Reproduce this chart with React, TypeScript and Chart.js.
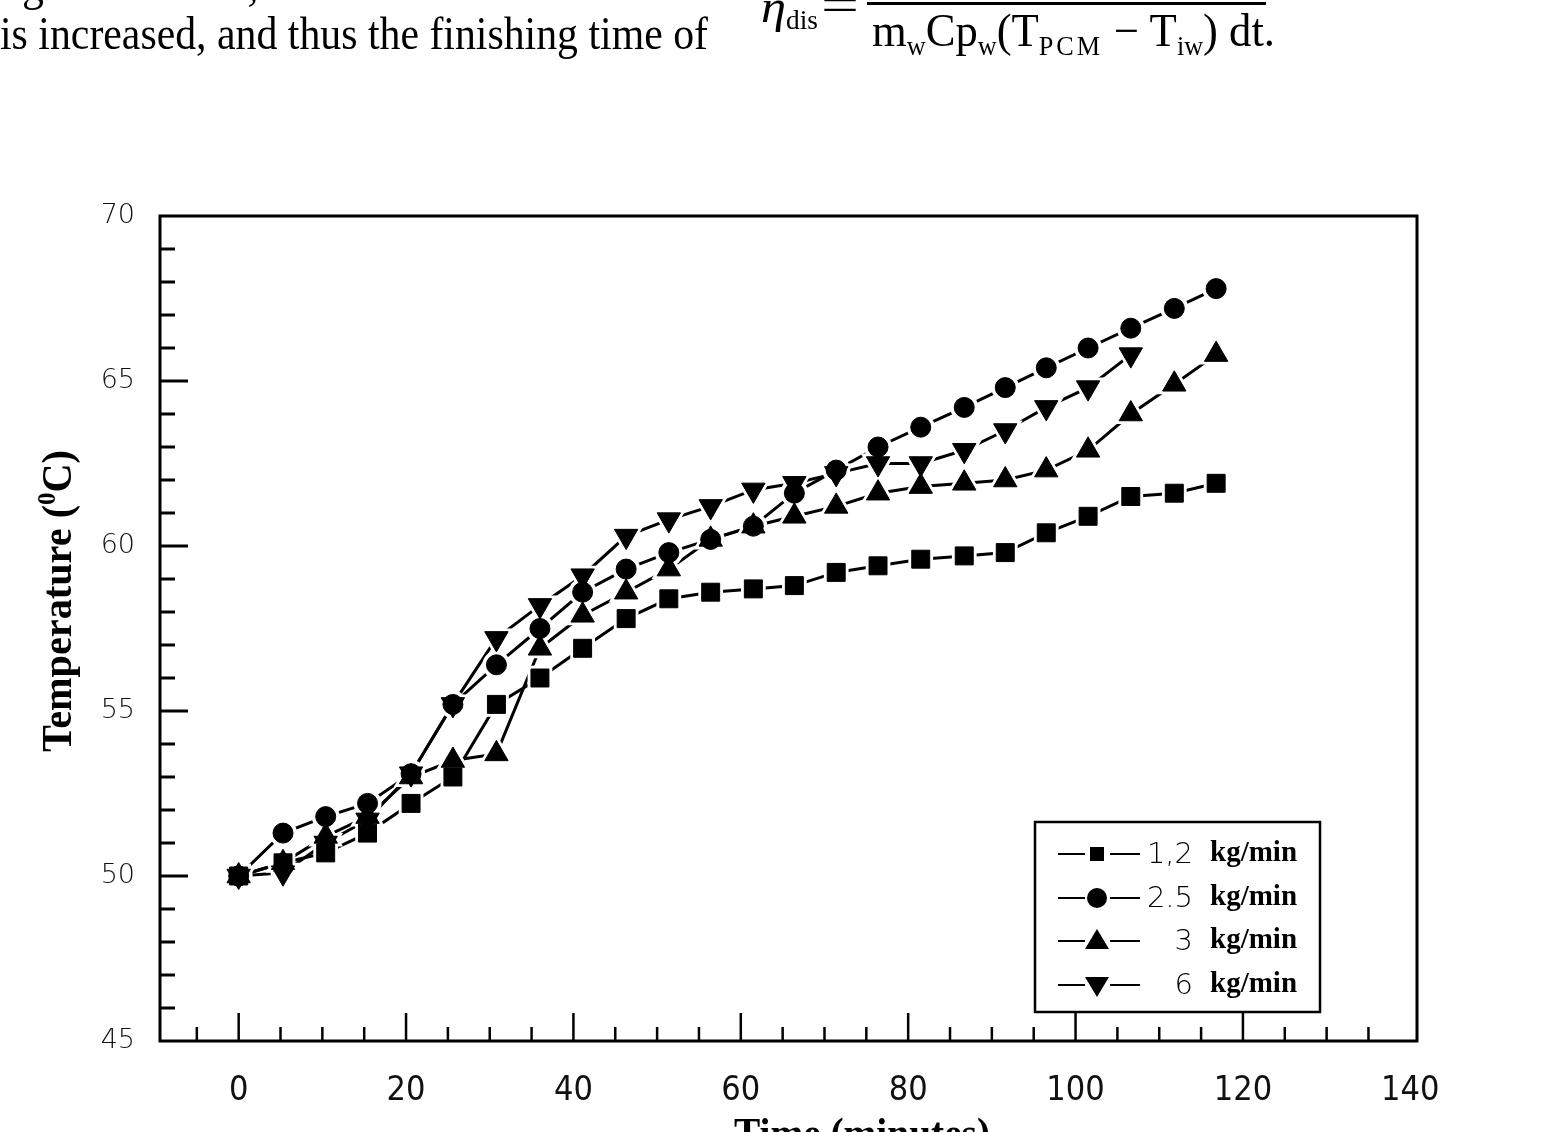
import React, { useEffect, useLayoutEffect, useRef } from 'react';
import { Chart, registerables } from 'chart.js';

Chart.register(...registerables);

// ---------- data ----------
const seriesNames = ['1,2', '2.5', '3', '6'];
const unitLabel = 'kg/min';
const timeMinutes = [0, 5.3, 10.4, 15.4, 20.6, 25.6, 30.8, 36.0, 41.1, 46.3, 51.4, 56.4, 61.5, 66.4, 71.4, 76.4, 81.5, 86.7, 91.6, 96.5, 101.5, 106.6, 111.8, 116.8];
const temp12 = [50.0, 50.4, 50.7, 51.3, 52.2, 53.0, 55.2, 56.0, 56.9, 57.8, 58.4, 58.6, 58.7, 58.8, 59.2, 59.4, 59.6, 59.7, 59.8, 60.4, 60.9, 61.5, 61.6, 61.9];
const temp25 = [50.0, 51.3, 51.8, 52.2, 53.1, 55.2, 56.4, 57.5, 58.6, 59.3, 59.8, 60.2, 60.6, 61.6, 62.3, 63.0, 63.6, 64.2, 64.8, 65.4, 66.0, 66.6, 67.2, 67.8];
const temp3 = [50.0, 50.4, 51.2, 51.8, 53.0, 53.5, 53.7, 56.9, 57.9, 58.6, 59.3, 60.2, 60.6, 60.9, 61.2, 61.6, 61.8, 61.9, 62.0, 62.3, 62.9, 64.0, 64.9, 65.8];
const temp6 = [50.0, 50.1, 51.0, 51.7, 53.1, 55.2, 57.2, 58.2, 59.1, 60.3, 60.8, 61.2, 61.7, 61.9, 62.2, 62.5, 62.5, 62.9, 63.5, 64.2, 64.8, 65.8];
const xTickValues = [0, 20, 40, 60, 80, 100, 120, 140];
const yTickValues = [45, 50, 55, 60, 65, 70];
const xTitle = 'Time (minutes)';
const yTitleMain = 'Temperature (';
const yTitleSup = '0';
const yTitleEnd = 'C)';

const allSeries = [temp12, temp25, temp3, temp6];
const markerStyles: { style: string; rotation: number; radius: number; halo: number }[] = [
  { style: 'rect', rotation: 0, radius: 12.7, halo: 17.5 },
  { style: 'circle', rotation: 0, radius: 10, halo: 14 },
  { style: 'triangle', rotation: 0, radius: 13.5, halo: 20 },
  { style: 'triangle', rotation: 180, radius: 13.5, halo: 20 },
];

function drawMarker(ctx: CanvasRenderingContext2D, kind: number, cx: number, cy: number) {
  ctx.beginPath();
  if (kind === 0) {
    ctx.rect(cx - 7, cy - 7, 14, 14);
  } else if (kind === 1) {
    ctx.arc(cx, cy, 10, 0, Math.PI * 2);
  } else if (kind === 2) {
    ctx.moveTo(cx, cy - 12);
    ctx.lineTo(cx + 12, cy + 8);
    ctx.lineTo(cx - 12, cy + 8);
    ctx.closePath();
  } else {
    ctx.moveTo(cx, cy + 12);
    ctx.lineTo(cx + 12, cy - 8);
    ctx.lineTo(cx - 12, cy - 8);
    ctx.closePath();
  }
  ctx.fill();
}

const framePlugin = {
  id: 'frameTicks',
  afterDatasetsDraw(chart: any) {
    const { ctx, chartArea: a, scales } = chart;
    const x = scales.x;
    const y = scales.y;
    ctx.save();
    ctx.strokeStyle = '#000';
    ctx.lineWidth = 3;
    ctx.strokeRect(a.left, a.top, a.right - a.left, a.bottom - a.top);
    for (let v = Math.ceil(y.min) + 1; v < y.max; v += 1) {
      const py = y.getPixelForValue(v);
      const len = v % 5 === 0 ? 28 : 15;
      ctx.beginPath();
      ctx.moveTo(a.left, py);
      ctx.lineTo(a.left + len, py);
      ctx.stroke();
    }
    ctx.lineWidth = 2.5;
    for (let v = -5; v < x.max - 1; v += 5) {
      const px = x.getPixelForValue(v);
      const len = v % 20 === 0 ? 28 : 14;
      ctx.beginPath();
      ctx.moveTo(px, a.bottom);
      ctx.lineTo(px, a.bottom - len);
      ctx.stroke();
    }
    ctx.restore();
  },
};

const titlesPlugin = {
  id: 'axisTitles',
  afterDraw(chart: any) {
    const { ctx } = chart;
    ctx.save();
    ctx.fillStyle = '#000';
    ctx.font = 'bold 42px "Liberation Serif"';
    ctx.textAlign = 'left';
    ctx.textBaseline = 'alphabetic';
    const xw = ctx.measureText(xTitle).width;
    const xs = 256 / xw;
    ctx.save();
    ctx.translate(862 - 128, 1147);
    ctx.scale(xs, 1);
    ctx.fillText(xTitle, 0, 0);
    ctx.restore();
    const big = 'bold 42px "Liberation Serif"';
    const small = 'bold 26px "Liberation Serif"';
    ctx.font = big;
    const w1 = ctx.measureText(yTitleMain).width;
    const w3 = ctx.measureText(yTitleEnd).width;
    ctx.font = small;
    const w2 = ctx.measureText(yTitleSup).width;
    const total = w1 + w2 + w3;
    const ys = 302 / total;
    ctx.save();
    ctx.translate(71, 752);
    ctx.rotate(-Math.PI / 2);
    ctx.scale(ys, 1);
    ctx.font = big;
    ctx.fillText(yTitleMain, 0, 0);
    ctx.font = small;
    ctx.fillText(yTitleSup, w1, -16);
    ctx.font = big;
    ctx.fillText(yTitleEnd, w1 + w2, 0);
    ctx.restore();
    ctx.restore();
  },
};

const legendPlugin = {
  id: 'boxLegend',
  afterDraw(chart: any) {
    const { ctx } = chart;
    const bx = 1035, by = 822, bw = 285, bh = 190;
    ctx.save();
    ctx.fillStyle = '#fff';
    ctx.fillRect(bx, by, bw, bh);
    ctx.strokeStyle = '#000';
    ctx.lineWidth = 2.5;
    ctx.strokeRect(bx, by, bw, bh);
    const rowY = [854, 898, 941, 985];
    seriesNames.forEach((name, i) => {
      const cy = rowY[i];
      ctx.strokeStyle = '#000';
      ctx.lineWidth = 2;
      ctx.beginPath();
      ctx.moveTo(1058, cy);
      ctx.lineTo(1085, cy);
      ctx.moveTo(1110, cy);
      ctx.lineTo(1140, cy);
      ctx.stroke();
      ctx.fillStyle = '#000';
      drawMarker(ctx, i, 1097, cy);
      ctx.font = '200 29px "DejaVu Sans"';
      ctx.textAlign = 'right';
      ctx.textBaseline = 'middle';
      ctx.fillText(name, 1193, cy + 1);
      ctx.font = 'bold 29px "Liberation Serif"';
      ctx.textAlign = 'left';
      ctx.fillText(unitLabel, 1210, cy);
    });
    ctx.restore();
  },
};

function Fit({ left, top, width, style, children }: any) {
  const ref = useRef<HTMLDivElement>(null);
  useLayoutEffect(() => {
    const el = ref.current;
    if (!el) return;
    el.style.transform = 'none';
    const w = el.getBoundingClientRect().width;
    if (w > 0) el.style.transform = `scaleX(${width / w})`;
  }, [width]);
  return (
    <div
      ref={ref}
      style={{
        position: 'absolute',
        left,
        top,
        whiteSpace: 'nowrap',
        transformOrigin: '0 0',
        fontFamily: '"Liberation Serif", serif',
        color: '#000',
        ...style,
      }}
    >
      {children}
    </div>
  );
}

export default function App() {
  const canvasRef = useRef<HTMLCanvasElement>(null);

  useEffect(() => {
    const canvas = canvasRef.current;
    if (!canvas) return;
    const points = (vals: number[]) => vals.map((v, k) => ({ x: timeMinutes[k], y: v }));
    // lines (bottom layer)
    const lineSets = allSeries.map((vals, i) => ({
      label: seriesNames[i] + ' ' + unitLabel,
      data: points(vals),
      borderColor: '#000',
      borderWidth: 3,
      pointRadius: 0,
      tension: 0,
      fill: false,
      order: 3,
    }));
    // white halos that open gaps in the lines around each marker
    const haloSets = allSeries.map((vals, i) => ({
      label: 'halo ' + seriesNames[i],
      data: points(vals),
      showLine: false,
      pointStyle: markerStyles[i].style as any,
      rotation: markerStyles[i].rotation,
      pointRadius: markerStyles[i].halo,
      pointBackgroundColor: '#fff',
      pointBorderWidth: 0,
      order: 2,
    }));
    // filled black markers (top layer)
    const markerSets = allSeries.map((vals, i) => ({
      label: 'marker ' + seriesNames[i],
      data: points(vals),
      showLine: false,
      pointStyle: markerStyles[i].style as any,
      rotation: markerStyles[i].rotation,
      pointRadius: markerStyles[i].radius,
      pointBackgroundColor: '#000',
      pointBorderColor: '#000',
      pointBorderWidth: 1,
      order: 1,
    }));
    const chart = new Chart(canvas, {
      type: 'line',
      data: { datasets: [...lineSets, ...haloSets, ...markerSets] as any },
      options: {
        responsive: false,
        animation: false,
        devicePixelRatio: 1,
        layout: { padding: { top: 216, right: 133, left: 0, bottom: 0 } },
        plugins: { legend: { display: false }, tooltip: { enabled: false } },
        scales: {
          x: {
            type: 'linear',
            min: -9.4,
            max: 140.8,
            grid: { display: false },
            border: { display: false },
            afterBuildTicks: (s: any) => {
              s.ticks = xTickValues.map((v) => ({ value: v }));
            },
            afterFit: (s: any) => {
              s.height = 91;
            },
            ticks: {
              padding: 22,
              autoSkip: false,
              maxRotation: 0,
              color: '#111',
              font: { family: '"Liberation Sans Narrow", "DejaVu Sans Condensed", sans-serif', size: 34 },
            },
          },
          y: {
            type: 'linear',
            min: 45,
            max: 70,
            grid: { display: false },
            border: { display: false },
            afterBuildTicks: (s: any) => {
              s.ticks = yTickValues.map((v) => ({ value: v }));
            },
            afterFit: (s: any) => {
              s.width = 160;
            },
            ticks: {
              padding: 17,
              color: '#111',
              font: { family: '"DejaVu Sans"', size: 27, weight: '200' as any },
            },
          },
        },
      },
      plugins: [framePlugin, titlesPlugin, legendPlugin],
    });
    return () => chart.destroy();
  }, []);

  return (
    <div
      style={{
        position: 'fixed',
        left: 0,
        top: 0,
        width: 1550,
        height: 1132,
        overflow: 'hidden',
        background: '#fff',
      }}
    >
      <canvas ref={canvasRef} width={1550} height={1132} style={{ position: 'absolute', left: 0, top: 0 }} />
      <Fit left={0} top={-37} width={708} style={{ fontSize: 46, lineHeight: '44px' }}>
        ng to this data, we obtained that the heat
      </Fit>
      <Fit left={0} top={12} width={708} style={{ fontSize: 46, lineHeight: '44px' }}>
        is increased, and thus the finishing time of
      </Fit>
      <Fit left={761} top={-16} width={25} style={{ fontStyle: 'italic', fontSize: 46, lineHeight: '46px' }}>
        η
      </Fit>
      <Fit left={786} top={6} width={32} style={{ fontSize: 28, lineHeight: '28px' }}>
        dis
      </Fit>
      <Fit left={821} top={-18} width={38} style={{ fontSize: 46, lineHeight: '46px' }}>
        =
      </Fit>
      <div style={{ position: 'absolute', left: 867, top: 2, width: 399, height: 2.5, background: '#000' }} />
      <Fit left={872} top={9} width={403} style={{ fontSize: 46, lineHeight: '44px' }}>
        m<span style={{ fontSize: 27, position: 'relative', top: 9 }}>w</span>Cp
        <span style={{ fontSize: 27, position: 'relative', top: 9 }}>w</span>(T
        <span style={{ fontSize: 27, position: 'relative', top: 9, letterSpacing: 3 }}>PCM</span> − T
        <span style={{ fontSize: 27, position: 'relative', top: 9 }}>iw</span>) dt.
      </Fit>
    </div>
  );
}
